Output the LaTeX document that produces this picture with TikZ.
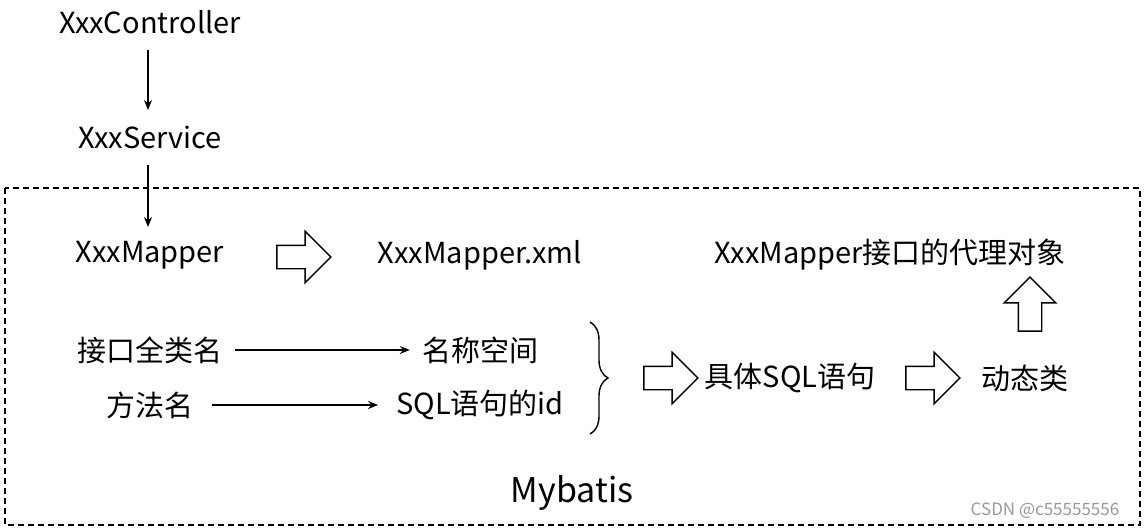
\documentclass[tikz,border=0pt]{standalone}
\usepackage{fontspec}
\setmainfont{Noto Sans CJK SC}
\usetikzlibrary{shapes.arrows,decorations.pathreplacing,arrows.meta}
\begin{document}
\begin{tikzpicture}[x=1pt,y=-1pt,
  lbl/.style={font=\fontsize{29}{32}\selectfont,inner sep=0pt},
  conn/.style={draw,line width=1.3pt,-{Stealth[length=10pt,width=8pt]}},
  harrow/.style={single arrow,draw,line width=1.4pt,inner sep=0pt,inner ysep=11pt,minimum height=54pt,single arrow head extend=14pt}]
\useasboundingbox (0,0) rectangle (1145,531);
\draw[dash pattern=on 6pt off 4pt,line width=1.3pt] (5,188) rectangle (1140,525);
\node[lbl] (ctl) at (150,22) {XxxController};
\node[lbl] (svc) at (150,137) {XxxService};
\node[lbl] (map) at (150,255) {XxxMapper};
\node[lbl] (xml) at (480,255) {XxxMapper.xml};
\node[lbl] (proxy) at (890,255) {XxxMapper接口的代理对象};
\node[lbl] (iface) at (150,350) {接口全类名};
\node[lbl] (ns) at (480,350) {名称空间};
\node[lbl] (meth) at (150,405) {方法名};
\node[lbl] (sqlid) at (480,405) {SQL语句的id};
\node[lbl] (sql) at (790,378) {具体SQL语句};
\node[lbl] (dyn) at (1025,378) {动态类};
\node[font=\fontsize{34}{37}\selectfont,inner sep=0pt] (mb) at (572,493) {Mybatis};
\node[font=\fontsize{17}{19}\selectfont,text=black!40,inner sep=0pt] (wm) at (1045,511) {CSDN @c55555556};
\coordinate (c1) at (148,50);\coordinate (c2) at (148,110);
\coordinate (s1) at (148,165);\coordinate (s2) at (148,227);
\draw[conn] (c1) -- (c2);
\draw[conn] (s1) -- (s2);
\draw[conn] (iface.east)+(12,0) -- ([xshift=-12pt]ns.west);
\draw[conn] (meth.east)+(18,0) -- ([xshift=-18pt]sqlid.west);
\node[harrow] (a1) at (298,257) {};
\node[harrow] (a2) at (665,378) {};
\node[harrow] (a3) at (927,378) {};
\node[harrow,rotate=90] (a4) at (1030,310) {};
\draw[line width=1.4pt,decorate,decoration={brace,amplitude=18pt}] (590,322) -- (590,434);
\end{tikzpicture}
\end{document}
